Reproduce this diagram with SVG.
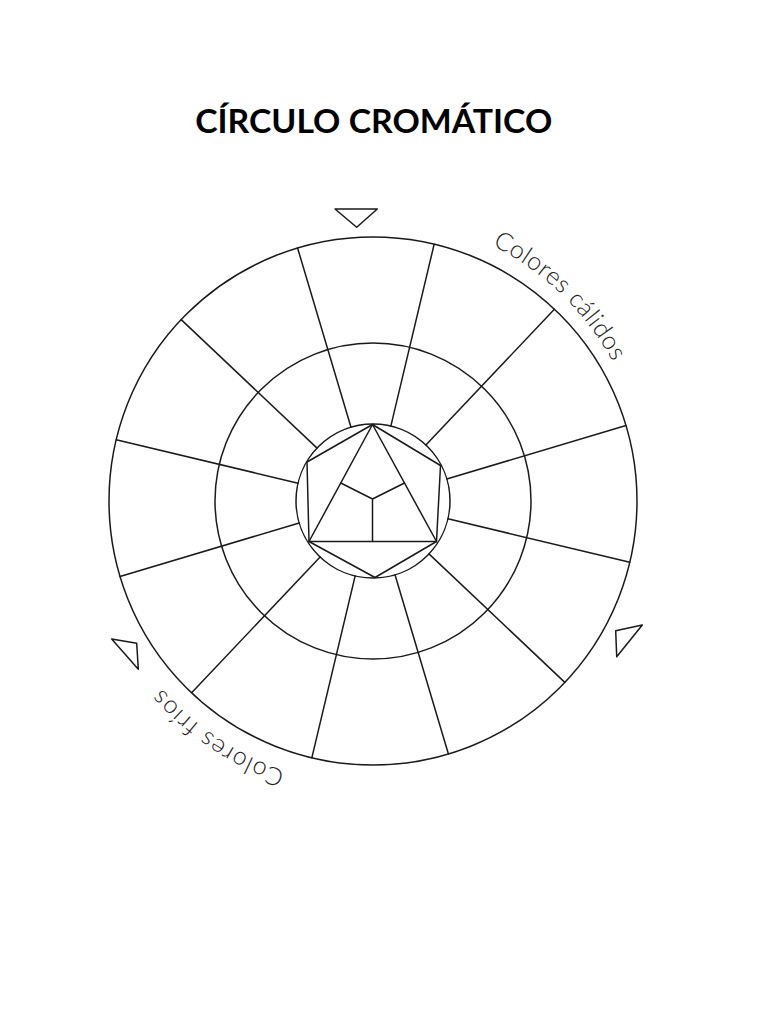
<svg xmlns="http://www.w3.org/2000/svg" width="768" height="1024" viewBox="0 0 768 1024">
<style>
.ln{fill:none;stroke:#1a1a1a;stroke-width:1.5;stroke-linejoin:round;stroke-linecap:round}
.title{font-family:"Lato","Liberation Sans",sans-serif;font-weight:700;font-size:33px;fill:#000}
.arc{font-family:"Lato","Open Sans",sans-serif;font-weight:300;font-size:25px;fill:#222}
</style>
<defs>
<path id="pWarm" d="M 492.2 245.4 A 282 282 0 0 1 630 400"/>
<path id="pCold" d="M 285.2 771.1 A 284 284 0 0 1 140 660"/>
</defs>
<rect width="768" height="1024" fill="#fff"/>
<g id="title"><text class="title" x="373.7" y="133" text-anchor="middle" textLength="357" lengthAdjust="spacingAndGlyphs">CÍRCULO CROMÁTICO</text></g>
<g id="rings" class="ln">
<circle cx="373" cy="501" r="264"/>
<circle cx="373" cy="501" r="158"/>
<circle cx="373" cy="501" r="77"/>
</g>
<g id="spokes" class="ln">
<line x1="390.84" y1="426.09" x2="434.17" y2="244.18"/>
<line x1="425.90" y1="445.05" x2="554.37" y2="309.18"/>
<line x1="446.79" y1="479.00" x2="625.99" y2="425.58"/>
<line x1="447.91" y1="518.84" x2="629.82" y2="562.17"/>
<line x1="428.95" y1="553.90" x2="564.82" y2="682.37"/>
<line x1="395.00" y1="574.79" x2="448.42" y2="753.99"/>
<line x1="355.16" y1="575.91" x2="311.83" y2="757.82"/>
<line x1="320.10" y1="556.95" x2="191.63" y2="692.82"/>
<line x1="299.21" y1="523.00" x2="120.01" y2="576.42"/>
<line x1="298.09" y1="483.16" x2="116.18" y2="439.83"/>
<line x1="317.05" y1="448.10" x2="181.18" y2="319.63"/>
<line x1="351.00" y1="427.21" x2="297.58" y2="248.01"/>
</g>
<g id="center" class="ln">
<polygon points="372.5,424.5 307,462 309,541.5 375,577.5 436.5,541.5 440.5,465.5"/>
<polygon points="372.5,424.5 309,541.5 436.5,541.5"/>
<path d="M372.5 499 L340.8 483 M372.5 499 L404.5 483 M372.5 499 L372.5 541.5"/>
</g>
<g id="markers" class="ln">
<polygon points="335,209 377.3,209 356.7,227.3"/>
<polygon points="615.7,630.7 642.3,625 616.7,656.7"/>
<polygon points="111.7,639 136.7,643.3 138.3,669.3"/>
</g>
<g id="labels">
<text class="arc"><textPath href="#pWarm" textLength="170" lengthAdjust="spacing">Colores cálidos</textPath></text>
<text class="arc"><textPath href="#pCold" textLength="150" lengthAdjust="spacing">Colores fríos</textPath></text>
</g>
</svg>
